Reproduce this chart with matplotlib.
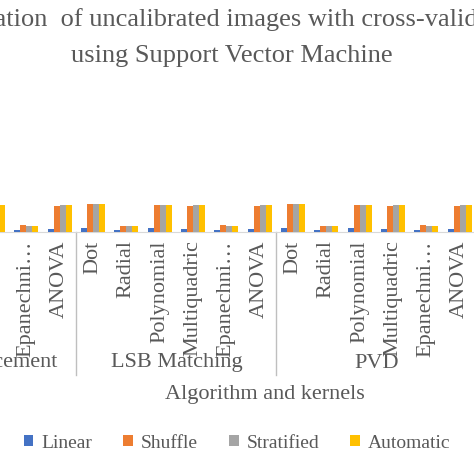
import numpy as np
import matplotlib.pyplot as plt
from matplotlib.transforms import blended_transform_factory

# data
groups = ['LSB Replacement', 'LSB Matching', 'PVD']
kernels = ['Dot', 'Radial', 'Polynomial', 'Multiquadric', 'Epanechnikov', 'ANOVA']
kernel_labels = ['Dot', 'Radial', 'Polynomial', 'Multiquadric', 'Epanechni…', 'ANOVA']
linear = [0.07, 0.03, 0.07, 0.06, 0.03, 0.05]
shuffle = [0.50, 0.10, 0.48, 0.46, 0.12, 0.45]
stratified = [0.50, 0.10, 0.48, 0.47, 0.11, 0.47]
automatic = [0.50, 0.10, 0.48, 0.47, 0.11, 0.47]
series = {'Linear': linear, 'Shuffle': shuffle, 'Stratified': stratified, 'Automatic': automatic}
colors = ['#4472C4', '#ED7D31', '#A5A5A5', '#FFC000']

plt.rcParams['font.family'] = ['Liberation Serif', 'DejaVu Serif']
fig = plt.figure(figsize=(4.74, 4.74), dpi=100)
# axes is wider than the visible picture (chart is cropped)
ax = fig.add_axes([0, (474 - 232) / 474, 1, 57 / 474])

x = np.arange(len(groups) * len(kernels))
w = 0.18
for j, (name, vals) in enumerate(series.items()):
    ax.bar(x + (j - 1.5) * w, vals * len(groups), width=w * 0.95, color=colors[j], label=name, zorder=3)

ax.set_xticks(x)
ax.set_xticklabels(kernel_labels * len(groups), rotation=90, fontsize=16, color='#595959')
ax.tick_params(axis='x', length=0, pad=6)
ax.set_xlim(3.21, 17.43)
ax.set_ylim(0, 1.0)
ax.set_yticks(np.arange(0, 1.01, 0.1))
ax.yaxis.set_visible(False)
ax.grid(axis='y', color='#D9D9D9', lw=1)
for s in ['top', 'left', 'right']:
    ax.spines[s].set_visible(False)
ax.spines['bottom'].set_color('#D9D9D9')

tr = blended_transform_factory(ax.transData, ax.transAxes)
for g in range(len(groups) + 1):
    xs = g * len(kernels) - 0.5
    ax.plot([xs, xs], [0, -143 / 57], transform=tr, color='#BFBFBF', lw=1, clip_on=False)
for g, name in enumerate(groups):
    ax.text(g * len(kernels) + 2.5, -131 / 57, name, transform=tr, ha='center', va='center',
            fontsize=16, color='#595959')
fig.text(265 / 474, 1 - 395 / 474, 'Algorithm and kernels', ha='center', va='center',
         fontsize=16, color='#595959')

fig.text(232 / 474, 1 - 20 / 474, 'Evaluation  of uncalibrated images with cross-validation',
         ha='center', va='center', fontsize=19, color='#595959')
fig.text(232 / 474, 1 - 56 / 474, 'using Support Vector Machine',
         ha='center', va='center', fontsize=19, color='#595959')

fig.legend(loc='center', bbox_to_anchor=(0.5, 1 - 443 / 474), ncol=4, frameon=False,
           fontsize=14, handlelength=0.5, handleheight=0.5, columnspacing=1.6,
           handletextpad=0.4, labelcolor='#595959')
fig.savefig('out.png', dpi=100)
